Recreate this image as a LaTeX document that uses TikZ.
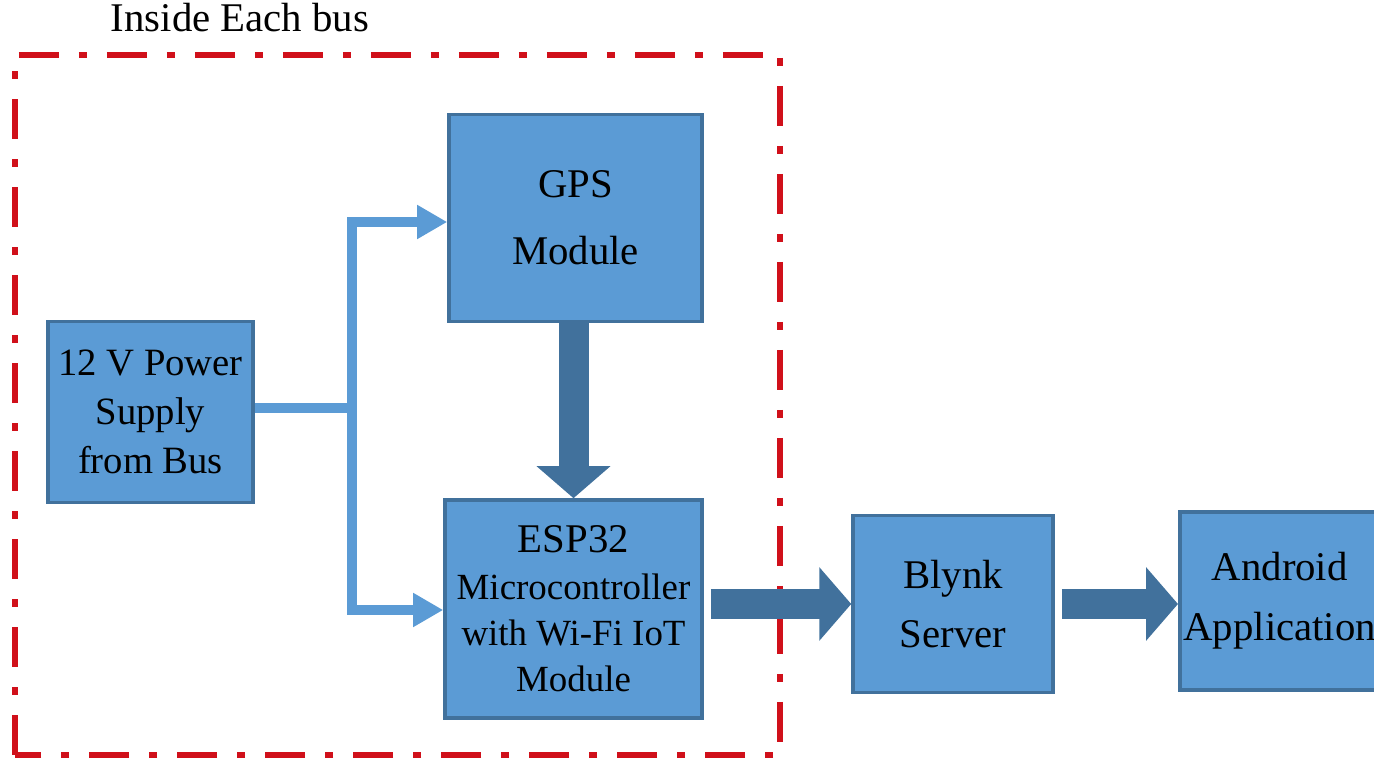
\documentclass[tikz,border=0pt]{standalone}
\usepackage{fontspec}
\setmainfont{Liberation Serif}
\usetikzlibrary{arrows.meta,positioning}
\definecolor{boxfill}{HTML}{5B9BD5}
\definecolor{boxdraw}{HTML}{41719C}
\definecolor{busred}{HTML}{D0101A}
\tikzset{
  block/.style={draw=boxdraw,fill=boxfill,line width=1pt,align=center,inner sep=0pt,font=\fontsize{11pt}{14pt}\selectfont},
  feed/.style={draw=boxfill,line width=3pt,-{Triangle[width=0.32cm,length=0.3cm]}},
  bigarrow/.style={draw=boxdraw,line width=0.3cm,-{Triangle[width=0.72cm,length=0.32cm]}},
}
\begin{document}
\begin{tikzpicture}
	\useasboundingbox (0,0) rectangle (13.74,7.68);
	%title
	\node (title) at (2.4,7.5) {\fontsize{11.6pt}{14pt}\selectfont Inside Each bus};
	%bus boundary
	\draw[busred,line width=1.7pt,dash pattern=on 0.4cm off 0.2cm on 0.08cm off 0.2cm] (0.15,0.13) rectangle (7.8,7.13);

	%blocks
	\node[block,minimum width=2.05cm,minimum height=1.81cm] (power) at (1.505,3.56) {12 V Power\\Supply\\from Bus};
	\node[block,minimum width=2.53cm,minimum height=2.07cm,font=\fontsize{11.6pt}{19pt}\selectfont] (gps) at (5.755,5.5) {GPS\\Module};
	\node[block,minimum width=2.57cm,minimum height=2.18cm,font=\fontsize{10.5pt}{13.2pt}\selectfont] (esp) at (5.735,1.59) {\fontsize{11.6pt}{14pt}\selectfont ESP32\\Microcontroller\\with Wi-Fi IoT\\Module};
	\node[block,minimum width=2.0cm,minimum height=1.77cm,font=\fontsize{11.6pt}{17pt}\selectfont] (blynk) at (9.53,1.64) {Blynk\\Server};
	\node[block,minimum width=2.0cm,minimum height=1.78cm,font=\fontsize{11.6pt}{17pt}\selectfont,anchor=west] (android) at (11.78,1.67) {Android\\Application};

	%power feed
	\coordinate (split) at (3.52,3.6);
	\draw[boxfill,line width=3pt] (power.east |- split) -- (split);
	\draw[feed] (split) |- (gps.west |- 0,5.46);
	\draw[feed] (split) |- (esp.west |- 0,1.58);

	%data arrows
	\draw[bigarrow] (esp.north |- gps.south) -- (esp.north);
	\draw[bigarrow] ([xshift=2pt]esp.east |- 0,1.64) -- (blynk.west |- 0,1.64);
	\draw[bigarrow] ([xshift=2pt]blynk.east |- 0,1.64) -- (android.west |- 0,1.64);
\end{tikzpicture}
\end{document}
